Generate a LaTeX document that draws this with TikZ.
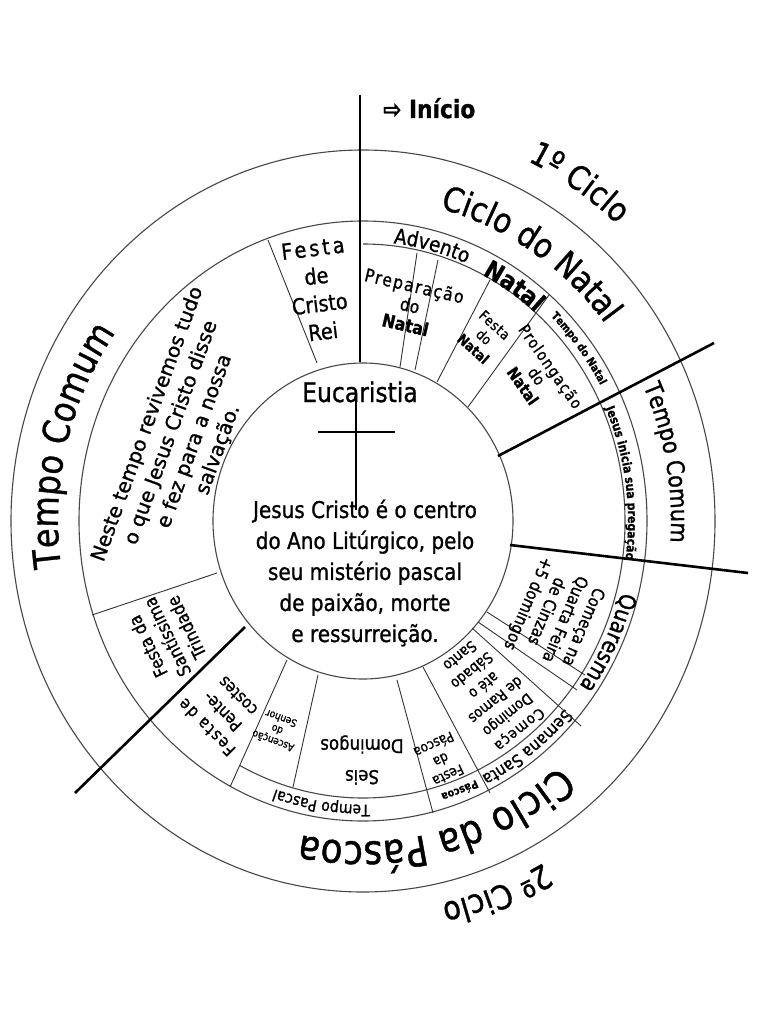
\documentclass[tikz,border=0pt]{standalone}
\usepackage{fontspec}
\setmainfont[FakeStretch=0.87,FakeBold=1]{DejaVu Sans}
\newfontfamily\vfont[FakeBold=1]{DejaVu Sans}
\usetikzlibrary{decorations.text}
\newcommand\fs[2]{\fontsize{#1}{#2}\selectfont}
% [font extras]{centre angle}{half span}{baseline radius}{size}{text}
\newcommand\ringtext[6][]{%
  \pgfmathsetmacro\rta{#2+#3}%
  \pgfmathsetmacro\rtb{#2-#3}%
  \pgfmathsetmacro\rty{1.055*#4}%
  \path[decorate,decoration={text along path,text align=center,
     text={|\fs{#5}{#5}#1|#6}}]
     (\rta:#4 and \rty) arc[start angle=\rta,end angle=\rtb,x radius=#4,y radius=\rty];}
\begin{document}
\begin{tikzpicture}[x=1pt,y=1pt,
  ring/.style={line width=1.1pt,draw=black!72},
  seg/.style={line width=0.9pt,draw=black!80},
  heavy/.style={line width=2.6pt,draw=black},
  lbl/.style={inner sep=0pt,align=center,text=black}]
\useasboundingbox[fill=white] (0,-1024) rectangle (768,0);
\coordinate (C) at (363,-521);
\begin{scope}[shift={(C)}]
  \draw[ring] (0,0) ellipse[x radius=150,y radius=158];
  \draw[ring] (0,0) ellipse[x radius=284,y radius=300];
  \draw[ring] (0,0) ellipse[x radius=352,y radius=371];
  \draw[ring] (90:262 and 277) arc[start angle=90,end angle=-118,x radius=262,y radius=277];
  % outer labels
  \ringtext{56.3}{25}{379}{33}{1º Ciclo}
  \ringtext{-69.5}{25}{371}{33}{2º Ciclo}
  \ringtext{57}{40}{306}{34}{Ciclo do Natal}
  \ringtext{10.5}{35}{308}{24}{Tempo Comum}
  \ringtext{-76}{45}{304}{41}{Ciclo da Páscoa}
  \ringtext{166}{40}{305}{37}{Tempo Comum}
  % thin band labels
  \ringtext{75.3}{20}{265}{21}{Advento}
  \ringtext[\bfseries]{56}{15}{262}{25}{Natal}
  \ringtext[\bfseries]{37.3}{18}{270}{11}{Tempo do Natal}
  \ringtext[\bfseries]{8}{25}{265}{12.5}{Jesus inicia sua pregação}
  \ringtext{-25.4}{22}{267}{23}{Quaresma}
  \ringtext{-52.7}{18}{269}{17}{Semana Santa}
  \ringtext[\bfseries]{-69.3}{9}{270}{11}{Páscoa}
  \ringtext{-98.8}{16}{269}{16}{Tempo Pascal}
\end{scope}
% heavy lines
\draw[heavy] (360,-95) -- (360,-362);
\draw[heavy] (498,-456) -- (714,-343);
\draw[heavy] (510,-545) -- (748,-573);
\draw[heavy] (245,-627) -- (75,-793);
% cross
\draw[heavy,line width=2.4pt] (356,-393) -- (356,-510);
\draw[heavy,line width=2.4pt] (318,-432) -- (395,-432);
% segment lines
\draw[seg] (417,-253) -- (400,-367);
\draw[seg] (438,-260) -- (415,-370);
\draw[seg] (490,-280) -- (437,-382);
\draw[seg] (468,-407) -- (549,-295);
\draw[seg] (317,-363) -- (268,-240);
\draw[seg] (217,-573) -- (92,-615);
\draw[seg] (287,-660) -- (230,-787);
\draw[seg] (318,-675) -- (293,-787);
\draw[seg] (397,-680) -- (433,-813);
\draw[seg] (423,-667) -- (490,-793);
\draw[seg] (487,-612) -- (585,-675);
\draw[seg] (478,-622) -- (577,-690);
\draw[seg] (472,-628) -- (581,-726);
% top label
\node[anchor=base west,inner sep=0pt,font=\fs{25}{25}\bfseries] (inicio) at (383,-118) {⇨ Início};
% segment texts
\node[lbl,rotate=7,font=\fs{22}{28}] (cristorei) at (318,-290)
  {{\addfontfeature{LetterSpace=14}Festa}\\de\\Cristo\\Rei};
\node[lbl,rotate=-13,font=\fs{18}{20}] (prep) at (410,-305)
  {{\addfontfeature{LetterSpace=8}Preparação}\\do\\{\bfseries Natal}};
\node[lbl,rotate=-42,font=\fs{14}{16}] (festanatal) at (484,-337)
  {{\addfontfeature{LetterSpace=6}Festa}\\do\\{\bfseries Natal}};
\node[lbl,rotate=-55,font=\fs{16}{17}] (prolong) at (537,-376)
  {{\addfontfeature{LetterSpace=8}Prolongação}\\do\\{\bfseries Natal}};
\node[lbl,rotate=-113,font=\fs{17}{20}] (cinzas) at (555,-615)
  {Começa na\\Quarta Feira\\de Cinzas\\+5 domingos};
\node[lbl,rotate=-141,font=\fs{15}{19}] (ramos) at (490,-693)
  {{\addfontfeature{LetterSpace=8}Começa}\\Domingo\\de Ramos\\até o\\Sábado\\Santo};
\node[lbl,rotate=-155,font=\fs{14}{17}] (festapascoa) at (441,-760)
  {Festa\\da\\Páscoa};
\node[lbl,rotate=180,font=\fs{19}{31}] (seis) at (362,-760)
  {Seis\\Domingos};
\node[lbl,rotate=160,font=\fs{10.5}{12}] (ascencao) at (277,-730)
  {Ascenção\\do\\Senhor};
\node[lbl,rotate=135,font=\fs{17}{22}] (pentecostes) at (222,-712)
  {{\addfontfeature{LetterSpace=10}Festa de}\\Pente-\\costes};
\node[lbl,rotate=116,font=\fs{18}{21.5}] (trindade) at (167,-637)
  {Festa da\\Santíssima\\Trindade};
\node[lbl,rotate=70,font=\vfont\fs{20}{25}] (neste) at (183,-437)
  {Neste tempo revivemos tudo\\o que Jesus Cristo disse\\e fez para a nossa\\salvação.};
\node[anchor=base,inner sep=0pt,font=\fs{27}{27}] (euca) at (360,-402) {Eucaristia};
\node[lbl,font=\fs{23}{31}] (centro) at (365,-573)
  {Jesus Cristo é o centro\\do Ano Litúrgico, pelo\\seu mistério pascal\\de paixão, morte\\e ressurreição.};
\end{tikzpicture}
\end{document}
